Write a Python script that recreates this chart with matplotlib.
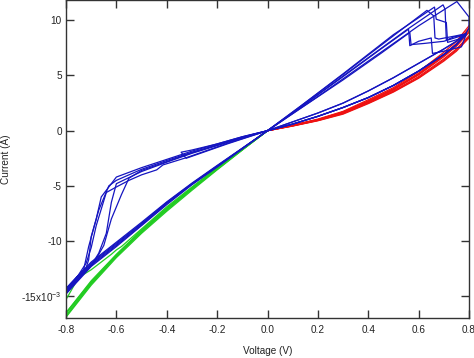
import matplotlib
matplotlib.use("Agg")
import matplotlib.pyplot as plt

plt.rcParams['font.family'] = ['Liberation Sans', 'DejaVu Sans']
plt.rcParams['mathtext.fontset'] = 'custom'
plt.rcParams['mathtext.rm'] = 'Liberation Sans'
plt.rcParams['mathtext.default'] = 'regular'
plt.rcParams['axes.unicode_minus'] = False

# ---------------- data (voltage in V, current in mA) ----------------
# red: positive sweeps, forward (0 -> 0.8) then back
red_v = [0, 0.1, 0.2, 0.3, 0.4, 0.5, 0.6, 0.7, 0.75, 0.8]
red_fwd = [
    [0, 0.45, 0.95, 1.60, 2.55, 3.60, 4.90, 6.50, 7.40, 8.60],
    [0, 0.42, 0.90, 1.50, 2.45, 3.50, 4.75, 6.30, 7.20, 8.40],
    [0, 0.48, 1.00, 1.68, 2.65, 3.75, 5.05, 6.70, 7.65, 8.90],
    [0, 0.43, 0.92, 1.55, 2.50, 3.55, 4.80, 6.40, 7.30, 8.50],
]
red_ret = [
    [9.30, 7.90, 6.90, 5.20, 3.80, 2.70, 1.70, 1.00, 0.50, 0],
    [9.00, 7.70, 6.80, 5.10, 3.70, 2.60, 1.65, 0.95, 0.45, 0],
    [9.50, 8.10, 7.10, 5.35, 3.90, 2.80, 1.75, 1.05, 0.50, 0],
    [9.20, 7.80, 6.85, 5.15, 3.75, 2.65, 1.70, 1.00, 0.48, 0],
]

# green: negative sweeps
green_v = [0, -0.1, -0.2, -0.3, -0.4, -0.5, -0.6, -0.7, -0.8]
green_fwd = [
    [0, -1.75, -3.50, -5.30, -7.20, -9.20, -11.40, -13.90, -16.80],
    [0, -1.75, -3.55, -5.40, -7.30, -9.30, -11.50, -14.00, -16.90],
    [0, -1.70, -3.45, -5.25, -7.15, -9.15, -11.30, -13.70, -16.50],
]
green_ret = [
    [-16.80, -13.80, -11.30, -9.10, -7.10, -5.25, -3.45, -1.70, 0],
    [-16.60, -13.75, -11.25, -9.05, -7.05, -5.20, -3.40, -1.70, 0],
    [-16.50, -13.60, -11.20, -9.00, -7.00, -5.20, -3.40, -1.65, 0],
]
green_kink_v = [-0.8, -0.8, -0.75, -0.70, -0.62, -0.60, -0.58, -0.5, -0.4, -0.3, -0.2, -0.1, 0]
green_kink_i = [-16.9, -15.3, -13.3, -12.6, -11.2, -10.8, -10.5, -8.9, -6.9, -5.1, -3.35, -1.65, 0]

# blue: positive half-cycles (forward on low branch, staircase, back on high branch)
blue_pos = [
    ([0, 0.1, 0.2, 0.3, 0.4, 0.5, 0.6, 0.7, 0.75, 0.785, 0.70, 0.62, 0.57, 0.565, 0.45, 0.3, 0.13, 0],
     [0, 0.6, 1.3, 2.1, 3.0, 4.1, 5.4, 6.9, 7.8, 8.7, 8.1, 7.9, 7.8, 8.9, 7.0, 4.6, 2.0, 0]),
    ([0, 0.1, 0.2, 0.3, 0.4, 0.5, 0.6, 0.7, 0.75, 0.79, 0.75, 0.68, 0.665, 0.66, 0.633, 0.5, 0.3, 0.13, 0],
     [0, 0.8, 1.6, 2.5, 3.6, 4.8, 6.1, 7.4, 8.1, 8.8, 8.6, 8.3, 8.4, 10.4, 10.9, 8.6, 5.1, 2.2, 0]),
    ([0, 0.1, 0.2, 0.3, 0.4, 0.5, 0.6, 0.7, 0.75, 0.785, 0.74, 0.71, 0.705, 0.697, 0.55, 0.3, 0.13, 0],
     [0, 0.6, 1.3, 2.1, 3.0, 4.1, 5.4, 6.9, 7.8, 8.7, 8.5, 8.2, 11.0, 11.4, 9.1, 4.95, 2.1, 0]),
    ([0, 0.1, 0.2, 0.3, 0.4, 0.5, 0.6, 0.7, 0.75, 0.785, 0.8, 0.8, 0.752, 0.6, 0.4, 0.2, 0],
     [0, 0.6, 1.3, 2.1, 3.0, 4.1, 5.4, 6.9, 7.8, 8.7, 9.3, 10.3, 11.7, 9.5, 6.3, 3.1, 0]),
    ([0, 0.1, 0.2, 0.3, 0.4, 0.5, 0.6, 0.7, 0.75, 0.79, 0.77, 0.70, 0.655, 0.65, 0.60, 0.565, 0.56, 0.45, 0.3, 0.13, 0],
     [0, 0.8, 1.6, 2.5, 3.6, 4.8, 6.1, 7.4, 8.1, 8.8, 7.6, 7.2, 7.0, 8.4, 8.1, 7.7, 9.2, 7.4, 4.9, 2.1, 0]),
    ([0, 0.1, 0.2, 0.3, 0.4, 0.5, 0.6, 0.7, 0.75, 0.785, 0.76, 0.715, 0.71, 0.67, 0.663, 0.5, 0.3, 0.13, 0],
     [0, 0.6, 1.3, 2.1, 3.0, 4.1, 5.4, 6.9, 7.8, 8.7, 8.3, 8.0, 9.8, 10.1, 11.2, 8.7, 5.15, 2.2, 0]),
]

# blue: negative half-cycles (forward on high-resistance branch, switching, back on low branch)
blue_neg = [
    ([0, -0.1, -0.2, -0.3, -0.4, -0.5, -0.6, -0.63, -0.67, -0.70, -0.71, -0.72, -0.76, -0.8,
      -0.7, -0.6, -0.5, -0.4, -0.3, -0.2, -0.1, 0],
     [0, -0.60, -1.30, -1.95, -2.70, -3.50, -4.50, -5.00, -7.20, -9.60, -11.70, -12.40, -13.40, -14.50,
      -12.00, -10.20, -8.40, -6.50, -4.80, -3.20, -1.60, 0]),
    ([0, -0.1, -0.2, -0.3, -0.4, -0.5, -0.6, -0.62, -0.64, -0.67, -0.70, -0.8,
      -0.7, -0.6, -0.5, -0.4, -0.3, -0.2, -0.1, 0],
     [0, -0.65, -1.35, -2.05, -2.85, -3.70, -4.80, -6.50, -9.30, -11.10, -12.20, -14.70,
      -12.20, -10.40, -8.55, -6.60, -4.85, -3.25, -1.62, 0]),
    ([0, -0.1, -0.2, -0.3, -0.4, -0.5, -0.6, -0.62, -0.66, -0.68, -0.71, -0.73, -0.8,
      -0.7, -0.6, -0.5, -0.4, -0.3, -0.2, -0.1, 0],
     [0, -0.55, -1.20, -1.85, -2.60, -3.35, -4.20, -4.80, -6.00, -8.00, -10.50, -12.60, -14.30,
      -11.90, -10.10, -8.30, -6.45, -4.75, -3.15, -1.58, 0]),
    ([0, -0.1, -0.2, -0.3, -0.4, -0.5, -0.55, -0.58, -0.62, -0.65, -0.69, -0.8,
      -0.7, -0.6, -0.5, -0.4, -0.3, -0.2, -0.1, 0],
     [0, -0.60, -1.30, -2.00, -2.80, -3.60, -4.30, -5.80, -8.00, -10.40, -12.00, -14.60,
      -12.10, -10.30, -8.45, -6.55, -4.82, -3.22, -1.60, 0]),
    ([0, -0.1, -0.2, -0.3, -0.343, -0.323, -0.16, 0],
     [0, -0.55, -1.20, -1.75, -1.95, -2.50, -1.20, 0]),
    ([0, -0.16, -0.323, -0.415, -0.44, -0.5, -0.55, -0.6, -0.64, -0.68, -0.70, -0.72, -0.8,
      -0.7, -0.6, -0.5, -0.4, -0.3, -0.2, -0.1, 0],
     [0, -1.15, -2.45, -3.10, -3.55, -4.00, -4.50, -5.10, -5.60, -8.60, -10.60, -12.00, -14.80,
      -12.30, -10.50, -8.60, -6.70, -4.90, -3.30, -1.65, 0]),
]

yticks = [-15, -10, -5, 0, 5, 10]
ytick_labels = ['-15x10$^{-3}$', '-10', '-5', '0', '5', '10']
xticks = [-0.8, -0.6, -0.4, -0.2, 0.0, 0.2, 0.4, 0.6, 0.8]
xtick_labels = ['-0.8', '-0.6', '-0.4', '-0.2', '0.0', '0.2', '0.4', '0.6', '0.8']

# ---------------- figure ----------------
fig = plt.figure(figsize=(4.74, 3.58), dpi=100)
ax = fig.add_axes([66 / 474, 40 / 358, 403 / 474, 318 / 358])

RED = '#ee1111'
GREEN = '#22cc22'
BLUE = '#1515c0'
LW = 0.9

for f, r in zip(red_fwd, red_ret):
    ax.plot(red_v, f, color=RED, lw=LW)
    ax.plot(red_v[::-1], r, color=RED, lw=LW)
for f, r in zip(green_fwd, green_ret):
    ax.plot(green_v, f, color=GREEN, lw=LW)
    ax.plot(green_v[::-1], r, color=GREEN, lw=LW)
ax.plot(green_kink_v, green_kink_i, color=GREEN, lw=LW)
for v, i in blue_pos:
    ax.plot(v, i, color=BLUE, lw=LW)
for v, i in blue_neg:
    ax.plot(v, i, color=BLUE, lw=LW)

ax.set_xlim(-0.8, 0.8)
ax.set_ylim(-16.97, 11.84)
ax.set_xticks(xticks)
ax.set_xticklabels(xtick_labels)
ax.set_yticks(yticks)
ax.set_yticklabels(ytick_labels)

for s in ax.spines.values():
    s.set_color('#333333')
    s.set_linewidth(1.0)
ax.tick_params(direction='in', length=6, width=1, color='#333333',
               top=True, right=True, labelsize=7.2, labelcolor='#222222')
ax.tick_params(axis='x', pad=5)
ax.tick_params(axis='y', pad=3)

ax.set_xlabel('Voltage (V)', fontsize=7.2, color='#222222', va='center')
ax.xaxis.set_label_coords(0.5, (318 - 351) / 318)
ax.set_ylabel('Current (A)', fontsize=7.2, color='#222222', va='center')
ax.yaxis.set_label_coords((6 - 66) / 403, 0.5)

fig.savefig('out.png', dpi=100)
